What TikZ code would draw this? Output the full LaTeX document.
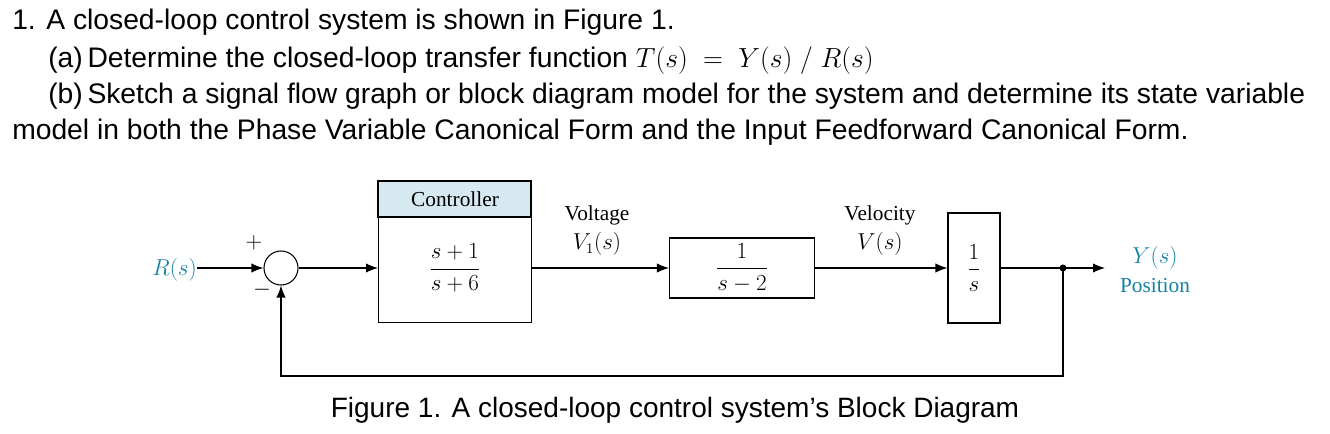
\documentclass[tikz,border=0pt]{standalone}
\usepackage{fontspec}
\setmainfont{Liberation Sans}
\newfontfamily\dgm{Liberation Serif}
\usetikzlibrary{arrows.meta}
\definecolor{sigblue}{RGB}{20,130,165}
\definecolor{hdr}{RGB}{214,232,240}
\begin{document}
\begin{tikzpicture}[x=0.75pt,y=-0.75pt,
  txt/.style={anchor=base west,inner sep=0pt,font=\fontsize{21.2}{25}\selectfont},
  blk/.style={draw,thick,inner sep=0pt},
  lab/.style={font=\dgm\fontsize{16}{19}\selectfont,inner sep=0pt},
  blu/.style={lab,text=sigblue},
  sig/.style={thick,-{Latex[length=9pt,width=7pt]}}]
\useasboundingbox (0,0) rectangle (1330,434);
% question text
\node[txt] (l1) at (12,30) {1. A closed-loop control system is shown in Figure 1.};
\node[txt] (l2) at (48,68) {(a)\,Determine the closed-loop transfer function $T(s)\;=\;Y(s)\;/\;R(s)$};
\node[txt] (l3) at (48,104) {(b)\,Sketch a signal flow graph or block diagram model for the system and determine its state variable};
\node[txt] (l4) at (12,140) {model in both the Phase Variable Canonical Form and the Input Feedforward Canonical Form.};
% diagram
\node[draw,thick,circle,minimum size=34pt*0.75,inner sep=0pt] (sum) at (281,268) {};
\node[blu,anchor=east] (r) at (197,270) {$R(s)$};
\node[lab] (plus) at (254,243) {$+$};
\node[lab] (minus) at (262,290) {$-$};
\draw[blk,fill=hdr] (378,181) rectangle (531,217);
\node[blk,minimum width=153*0.75pt,minimum height=141*0.75pt,anchor=north west] (c) at (378,181) {};
\node[lab] (ctl) at (455,199) {Controller};
\node[lab] (cf) at (455,268) {$\displaystyle\frac{s+1}{s+6}$};
\node[blk,minimum width=145*0.75pt,minimum height=60*0.75pt] (g) at (742,268) {};
\node[lab] (gf) at (742,268) {$\displaystyle\frac{1}{s-2}$};
\node[blk,minimum width=52*0.75pt,minimum height=110*0.75pt] (i) at (974,268) {};
\node[lab] (if) at (974,268) {$\displaystyle\frac{1}{s}$};
\node[lab] (v1) at (597,215) {Voltage};
\node[lab] (v2) at (597,244) {$V_1(s)$};
\node[lab] (w1) at (880,215) {Velocity};
\node[lab] (w2) at (880,244) {$V(s)$};
\node[blu] (y1) at (1155,258) {$Y(s)$};
\node[blu] (y2) at (1155,286) {Position};
\coordinate (out) at (1105,268);
\coordinate (tap) at (1063,268);
\draw[sig] (r.east |- sum.west) -- (sum.west);
\draw[sig] (sum.east) -- (c.west |- sum.east);
\draw[sig] (c.east |- g.west) -- (g.west);
\draw[sig] (g.east) -- (i.west);
\draw[sig] (i.east) -- (out);
\fill (tap) circle (3.5);
\draw[sig] (tap) -- (1063,376) -| (sum.south);
\node[font=\fontsize{21}{25}\selectfont,inner sep=0pt] (cap) at (675,410) {Figure 1. A closed-loop control system’s Block Diagram};
\end{tikzpicture}
\end{document}
